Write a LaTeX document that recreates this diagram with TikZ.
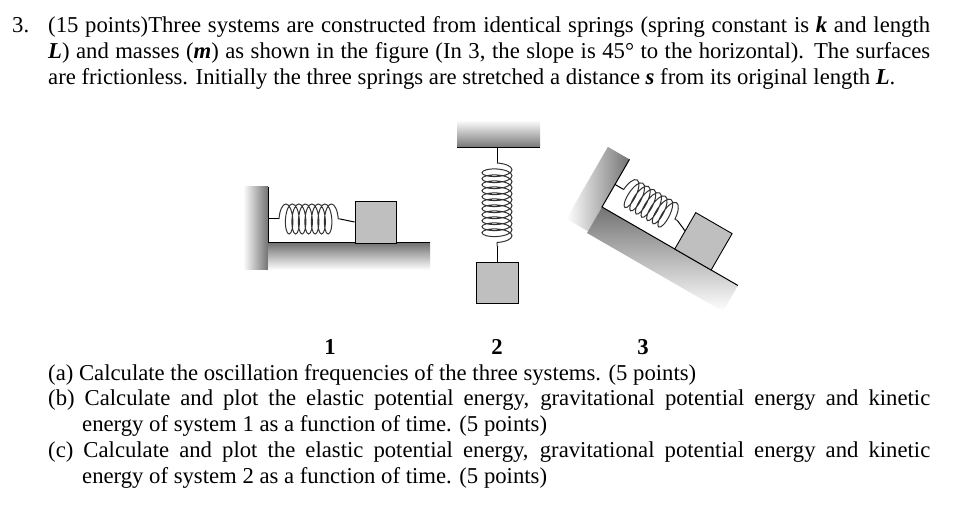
\documentclass[tikz,border=0pt]{standalone}
\usepackage{fontspec}
\setmainfont{Liberation Serif}
\usetikzlibrary{decorations.pathmorphing}
\begin{document}
\begin{tikzpicture}[x=1pt,y=-1pt,
  txt/.style={anchor=base west,inner sep=0pt,font=\fontsize{22.7}{26}\selectfont},
  num/.style={anchor=base,inner sep=0pt,font=\fontsize{22.7}{26}\selectfont\bfseries},
  mass/.style={draw,fill=black!25,line width=0.9pt},
  spr/.style={line width=1pt,black!80,decorate,decoration={coil,amplitude=15pt,segment length=6.5pt,aspect=0.35,pre length=0pt,post length=0pt}},
  lin/.style={line width=1pt}]
\path[use as bounding box] (0,0) rectangle (962,513);
\newcommand{\bi}[1]{\textbf{\textit{#1}}}
% text
\node[txt] (n3) at (12,33) {3.};
\node[txt] (l1) at (48,33) {\makebox[882pt][s]{(15 points)Three systems are constructed from identical springs (spring constant is \bi{k} and length}};
\node[txt] (l2) at (48,59) {\makebox[882pt][s]{\bi{L}) and masses (\bi{m}) as shown in the figure (In 3, the slope is 45° to the horizontal). The surfaces}};
\node[txt] (l3) at (48,85) {are frictionless. Initially the three springs are stretched a distance \bi{s} from its original length \bi{L}.};
\node[txt] (a) at (48,380) {(a) Calculate the oscillation frequencies of the three systems. (5 points)};
\node[txt] (b) at (48,405) {\makebox[882pt][s]{(b) Calculate and plot the elastic potential energy, gravitational potential energy and kinetic}};
\node[txt] (b2) at (82,431) {energy of system 1 as a function of time. (5 points)};
\node[txt] (c) at (48,457) {\makebox[882pt][s]{(c) Calculate and plot the elastic potential energy, gravitational potential energy and kinetic}};
\node[txt] (c2) at (82,483) {energy of system 2 as a function of time. (5 points)};
\node[num] (t1) at (330,355) {1};
\node[num] (t2) at (497,355) {2};
\node[num] (t3) at (643,355) {3};
% system 1
\shade[left color=white,right color=black!55] (243,187) rectangle (268,270);
\shade[top color=black!55,bottom color=white] (268,243) rectangle (430,270);
\draw[lin] (268,187) -- (268,243) -- (430,243);
\node[mass,minimum width=41pt,minimum height=42pt,inner sep=0pt] (m1) at (375.5,222) {};
\coordinate (s1a) at (268,219);
\draw[lin] (s1a) -- (279,219);
\draw[spr] (279,219) -- (340,219);
\draw[lin] (340,219) -- (m1.west);
% system 2
\shade[top color=white,bottom color=black!55] (457,120) rectangle (540,148);
\draw[lin] (457,148) -- (540,148);
\node[mass,minimum width=42pt,minimum height=41pt,inner sep=0pt] (m2) at (497,283) {};
\coordinate (s2a) at (497,148);
\draw[lin] (s2a) -- (497,163);
\draw[spr,decoration={amplitude=15pt,segment length=6pt}] (497,163) -- (497,246);
\draw[lin] (497,246) -- (m2.north);
% system 3
\begin{scope}[shift={(602,207)},rotate=-30]
\shade[left color=white,right color=black!55] (-25,-55) rectangle (0,28);
\shade[top color=black!55,bottom color=white] (0,0) rectangle (157,30);
\draw[lin] (0,-55) -- (0,0) -- (157,0);
\node[mass,rotate=-30,minimum width=42pt,minimum height=42pt,inner sep=0pt] (m3) at (105,-21) {};
\coordinate (s3a) at (0,-26);
\draw[lin] (s3a) -- (10,-26);
\draw[spr] (10,-26) -- (72,-26);
\draw[lin] (72,-26) -- (m3.west);
\end{scope}
\end{tikzpicture}
\end{document}
